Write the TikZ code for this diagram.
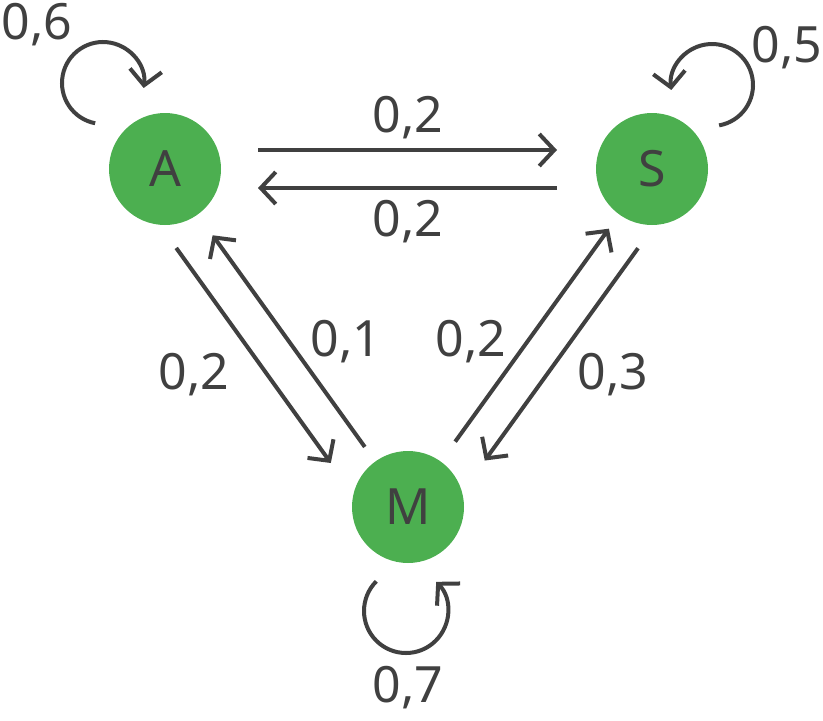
\documentclass[tikz,border=0pt]{standalone}
\usepackage{fontspec}
\setmainfont{Noto Sans}
\usepackage{xcolor}
\usepackage{tikz}
\usetikzlibrary{arrows.meta,positioning}
\definecolor{stategreen}{HTML}{4CAF50}
\definecolor{inkgray}{HTML}{404040}

\begin{document}
\begin{tikzpicture}[
  x=0.5pt, y=0.5pt,
  font=\fontsize{25}{30}\selectfont, text=inkgray,
  state/.style={circle, fill=stategreen, minimum size=56pt, inner sep=0pt, outer sep=0pt},
  prob/.style={inner sep=1pt},
  arr/.style={-{Straight Barb[length=7.5pt,width=16pt]}, line width=2pt, draw=inkgray}
]
\useasboundingbox (0,0) rectangle (823,720);
\node[state] (a) at (165,551) {A};
\node[state] (s) at (652,551) {S};
\node[state] (m) at (408,213) {M};

% between A and S
\draw[arr, shorten <=18.5pt, shorten >=19.5pt] ([yshift=9.5pt]a.east) -- ([yshift=9.5pt]s.west);
\draw[arr, shorten <=19.5pt, shorten >=18.5pt] ([yshift=-9.5pt]s.west) -- ([yshift=-9.5pt]a.east);
\node[prob] (as) at (408,602) {0,2};
\node[prob] (sa) at (408,498) {0,2};

% between A and M
\draw[arr, shorten <=35.3pt, shorten >=40.4pt] ([shift={(-30,-21.6)}]a.center) -- ([shift={(-30,-21.6)}]m.center);
\draw[arr, shorten <=9pt, shorten >=12.8pt] (m) -- (a);
\node[prob] (am) at (194,345) {0,2};
\node[prob] (ma) at (346,378) {0,1};

% between S and M
\draw[arr, shorten <=12.3pt, shorten >=8.8pt] (m) -- (s);
\draw[arr, shorten <=36.2pt, shorten >=41.3pt] ([shift={(28.4,-20.5)}]s.center) -- ([shift={(28.4,-20.5)}]m.center);
\node[prob] (ms) at (471,378) {0,2};
\node[prob] (sm) at (613,345) {0,3};

% self loops
\draw[arr] ([shift={(-62,86)}]a.center) ++(259:41) arc[start angle=259, end angle=-7, radius=41];
\node[prob] (aa) at (37,695) {0,6};
\draw[arr] ([shift={(60,84)}]s.center) ++(-80:41) arc[start angle=-80, end angle=187, radius=41];
\node[prob] (ss) at (787,672) {0,5};
\draw[arr] ([shift={(-2,-104)}]m.center) ++(135:42) arc[start angle=135, end angle=404, radius=42];
\node[prob] (mm) at (408,32) {0,7};
\end{tikzpicture}
\end{document}
